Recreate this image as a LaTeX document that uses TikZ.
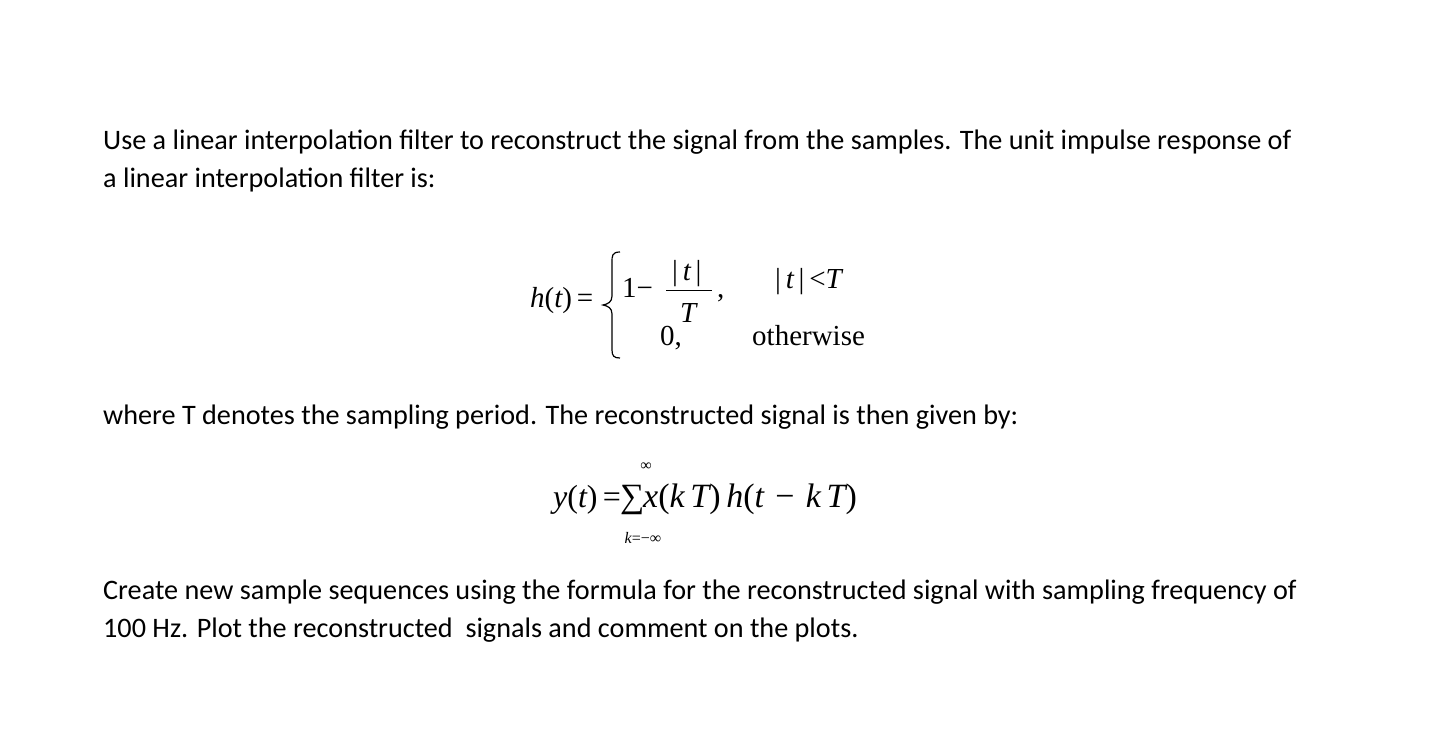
\documentclass[tikz,border=0pt]{standalone}
\usepackage{fontspec}
\setmainfont{Carlito}
\newfontfamily\tms{Liberation Serif}
\begin{document}
\begin{tikzpicture}[x=1pt,y=-1pt,
 txt/.style={anchor=base west,inner sep=0pt,font=\fontsize{28.2}{34}\selectfont},
 fm/.style={anchor=base west,inner sep=0pt,font=\tms\fontsize{29}{32}\selectfont},
 sm/.style={anchor=base,inner sep=0pt,font=\tms\fontsize{16}{18}\selectfont}]
\useasboundingbox (0,0) rectangle (1438,734);
\node[txt] (l1) at (103,149) {Use a linear interpolation filter to reconstruct the signal from the samples. The unit impulse response of};
\node[txt] (l2) at (103,187) {a linear interpolation filter is:};
\node[fm] (h) at (530,307) {\itshape h\upshape(\itshape t\upshape)\,=};
\draw[line width=1.2pt] (620,252) .. controls (612,252) and (612,256) .. (612,262) -- (612,296) .. controls (612,302) and (608,304) .. (603,305) .. controls (608,306) and (612,308) .. (612,314) -- (612,350) .. controls (612,356) and (614,358) .. (620,358);
\node[fm] (one) at (622,297) {1−};
\node[fm] (num) at (672,280) {|\,\itshape t\upshape\,|};
\draw (666,290) -- (712,290);
\node[fm] (den) at (680,322) {\itshape T};
\node[fm] (cm) at (717,297) {,};
\node[fm] (cond) at (775,288) {|\,\itshape t\upshape\,|\,<\itshape T};
\node[fm] (zero) at (660,345) {0,};
\node[fm] (oth) at (752,345) {otherwise};
\node[txt] (l3) at (103,424) {where T denotes the sampling period. The reconstructed signal is then given by:};
\node[fm,font=\tms\fontsize{32}{34}\selectfont] (y) at (553,507) {\itshape y\upshape(\itshape t\upshape)\,=};
\node[fm,font=\tms\fontsize{34}{34}\selectfont] (sum) at (620,507) {∑};
\node[sm] (inf) at (646,470) {∞};
\node[sm] (kk) at (643,543) {\itshape k\upshape=−∞};
\node[fm,font=\tms\fontsize{34}{36}\selectfont] (rest) at (643,507) {\itshape x\upshape(\itshape k\,T\upshape)\,\itshape h\upshape(\itshape t\upshape\,\,−\,\,\itshape k\,T\upshape)};
\node[txt] (l4) at (103,599) {Create new sample sequences using the formula for the reconstructed signal with sampling frequency of};
\node[txt] (l5) at (103,637) {100 Hz. Plot the reconstructed\ \ signals and comment on the plots.};
\end{tikzpicture}
\end{document}
